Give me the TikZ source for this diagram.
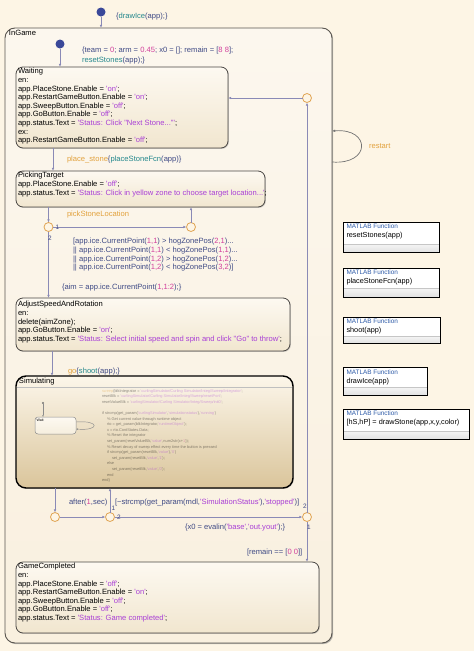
\documentclass[tikz,border=0pt]{standalone}
\usepackage{fontspec}
\setmainfont{Liberation Sans}[Ligatures=TeXOff]
\usetikzlibrary{arrows.meta,shadows}
\definecolor{bgc}{HTML}{FDF5E5}
\definecolor{igtop}{HTML}{FCF7EE}
\definecolor{igbot}{HTML}{F9F0DF}
\definecolor{igbd}{HTML}{5A5650}
\definecolor{sttop}{HTML}{FDF9F1}
\definecolor{stbot}{HTML}{F1E6CF}
\definecolor{stbd}{HTML}{4A4744}
\definecolor{simtop}{HTML}{FCF6EA}
\definecolor{simbot}{HTML}{DAC59B}
\definecolor{strc}{HTML}{A93FD6}
\definecolor{numc}{HTML}{D2409C}
\definecolor{fnc}{HTML}{23878C}
\definecolor{evc}{HTML}{E2A23E}
\definecolor{condc}{HTML}{3F4A85}
\definecolor{linec}{HTML}{8A8AB6}
\definecolor{juncc}{HTML}{E0A453}
\definecolor{dotc}{HTML}{3A4899}
\definecolor{mfc}{HTML}{2E5BA8}
\newcommand\Sq[1]{\textcolor{strc}{#1}}
\newcommand\Nm[1]{\textcolor{numc}{#1}}
\newcommand\Fn[1]{\textcolor{fnc}{#1}}
\newcommand\Ev[1]{\textcolor{evc}{#1}}
\newcommand\fsz{\fontsize{7.6}{8.6}\selectfont}
\begin{document}
\begin{tikzpicture}[x=1pt,y=-1pt,
  sbox/.style={draw=stbd, line width=0.8pt, rounded corners=7pt, inner sep=0pt, outer sep=0pt, anchor=north west,
    top color=sttop, bottom color=stbot,
    drop shadow={shadow xshift=0.9pt,shadow yshift=-0.9pt,opacity=0.35}},
  txt/.style={anchor=north west, inner sep=0pt, outer sep=0pt, align=left, font=\fsz},
  ctxt/.style={txt, text=condc},
  junc/.style={circle, draw=juncc, line width=0.8pt, fill=bgc, minimum size=9pt, inner sep=0pt, outer sep=0pt},
  ddot/.style={circle, fill=dotc, minimum size=9pt, inner sep=0pt, outer sep=0pt},
  tr/.style={draw=linec, line width=0.7pt, -{Latex[length=3.2pt,width=2.6pt]}},
  num/.style={font=\fontsize{6.4}{7}\selectfont, text=condc, inner sep=0pt},
  mfbox/.style={draw=black, line width=0.8pt, fill=white, inner sep=0pt, outer sep=0pt, anchor=north west,
    drop shadow={shadow xshift=1pt,shadow yshift=-1pt,opacity=0.55}},
  mft/.style={txt, font=\fontsize{6.4}{7}\selectfont, text=mfc},
  mfcont/.style={txt, font=\fontsize{7.3}{8}\selectfont},
  band/.style={top color=gray!8, bottom color=gray!22}
]
\fill[bgc] (0,0) rectangle (474,651);
\useasboundingbox (0,0) rectangle (474,651);

% helper coordinates
\coordinate (c53) at (53,0);
\coordinate (c52) at (52,0);
\coordinate (y162) at (0,162);
\coordinate (y131) at (0,131);
\coordinate (y422) at (0,422);
\coordinate (y429) at (0,429);
\coordinate (y387) at (0,387);

% InGame superstate
\node[sbox, rounded corners=10pt, draw=igbd, line width=0.9pt, top color=igtop, bottom color=igbot,
  minimum width=327pt, minimum height=615pt,
  drop shadow={shadow xshift=1.2pt,shadow yshift=-1.2pt,opacity=0.4}] (ingame) at (5,28) {};
\node[txt] (ingamet) at (9,30.4) {InGame};

% states
\node[sbox, minimum width=212pt, minimum height=81pt] (waiting) at (16,67) {};
\node[sbox, minimum width=249pt, minimum height=36pt] (picking) at (16,171) {};
\node[sbox, minimum width=274pt, minimum height=53pt] (adjust) at (16,298) {};
\node[sbox, rounded corners=10pt, draw=black, line width=1.4pt, top color=simtop, bottom color=simbot,
  minimum width=277pt, minimum height=112pt] (simulating) at (16,376) {};
\node[sbox, minimum width=303pt, minimum height=71pt] (gamecomp) at (16,562) {};

% state texts
\node[txt] (waitingt) at (18,68.4) {Waiting\\
en:\\
app.PlaceStone.Enable = \Sq{'on'};\\
app.RestartGameButton.Enable = \Sq{'on'};\\
app.SweepButton.Enable = \Sq{'off'};\\
app.GoButton.Enable = \Sq{'off'};\\
app.status.Text = \Sq{'Status: Click "Next Stone..."'};\\
ex:\\
app.RestartGameButton.Enable = \Sq{'off'};};

\node[txt] (pickingt) at (18,172.4) {PickingTarget\\
app.PlaceStone.Enable = \Sq{'off'};\\
app.status.Text = \Sq{'Status: Click in yellow zone to choose target location...'};};

\node[txt] (adjustt) at (18,301.4) {AdjustSpeedAndRotation\\
en:\\
delete(aimZone);\\
app.GoButton.Enable = \Sq{'on'};\\
app.status.Text = \Sq{'Status: Select initial speed and spin and click "Go" to throw'};};

\node[txt] (simt) at (19,378.4) {Simulating};
\draw[draw=black!25, line width=0.4pt] ([xshift=1pt]simulating.west |- y387) -- ([xshift=-1pt]simulating.east |- y387);

\node[txt] (gamecompt) at (18,563.4) {GameCompleted\\
en:\\
app.PlaceStone.Enable = \Sq{'off'};\\
app.RestartGameButton.Enable = \Sq{'on'};\\
app.SweepButton.Enable = \Sq{'off'};\\
app.GoButton.Enable = \Sq{'off'};\\
app.status.Text = \Sq{'Status: Game completed'};};

% inner Wait state of Simulating
\node[draw=black!45, line width=0.5pt, rounded corners=3pt, inner sep=0pt, outer sep=0pt, anchor=north west,
  top color=sttop, bottom color=stbot!70, minimum width=41pt, minimum height=17pt] (wait) at (35,417) {};
\node[txt, font=\fontsize{3.6}{4}\selectfont] (waitt) at (36.5,418.5) {Wait};
\node[circle, fill=black!55, minimum size=2.4pt, inner sep=0pt, outer sep=0pt] (d2) at (43,403) {};
\draw[draw=black!45, line width=0.45pt, -{Latex[length=1.8pt,width=1.6pt]}] (d2) -- (d2 |- wait.north);
\draw[draw=black!45, line width=0.45pt, -{Latex[length=1.8pt,width=1.6pt]}] (wait.east |- y422) .. controls (100,420) and (100,431) .. (wait.east |- y429);

\node[txt, font=\fontsize{3.9}{5.6}\selectfont, text=black, text opacity=0.42] (code) at (102,389.2) {\Ev{sweep}\{blkIntegrator = \Sq{'curlingSimulator/Curling Simulator/Integ/Sweep/Integrator'};\\
resetBlk = \Sq{'curlingSimulator/Curling Simulator/Integ/Sweep/resetPort'};\\
resetValueBlk = \Sq{'curlingSimulator/Curling Simulator/Integ/Sweep/init0'};\\[5.6pt]
if strcmp(get\_param(\Sq{'curlingSimulator'},\Sq{'simulationstatus'}),\Sq{'running'})\\
\hspace*{5pt}\% Get current value through runtime object\\
\hspace*{5pt}rto = get\_param(blkIntegrator,\Sq{'runtimeObject'});\\
\hspace*{5pt}x = rto.ContStates.Data;\\
\hspace*{5pt}\% Reset the integrator\\
\hspace*{5pt}set\_param(resetValueBlk,\Sq{'value'},num2str(x+\Nm{1}));\\
\hspace*{5pt}\% Reset decay of sweep effect every time the button is pressed\\
\hspace*{5pt}if strcmp(get\_param(resetBlk,\Sq{'value'}),\Sq{'0'})\\
\hspace*{10pt}set\_param(resetBlk,\Sq{'value'},\Sq{'1'});\\
\hspace*{5pt}else\\
\hspace*{10pt}set\_param(resetBlk,\Sq{'value'},\Sq{'0'});\\
\hspace*{5pt}end\\
end\}};

% default transitions
\node[ddot] (d0) at (101,12) {};
\node[ctxt] (d0l) at (116,13.4) {\{\Fn{drawIce}(app);\}};
\node[ddot] (d1) at (60,44) {};
\node[ctxt, font=\fontsize{7.6}{9.7}\selectfont] (d1l) at (82,47.4) {\{team = \Nm{0}; arm = \Nm{0.45}; x0 = []; remain = [\Nm{8 8}];\\
\Fn{resetStones}(app);\}};
\draw[tr] (d0.south) -- (d0 |- ingame.north);
\draw[tr] (d1.south) -- (d1 |- waiting.north);

% junctions
\node[junc] (r1) at (307,98) {};
\node[junc] (r2) at (307,517) {};
\node[junc] (j1) at (48.5,227) {};
\node[junc] (j2) at (191,227) {};
\node[junc] (j3) at (55,517) {};
\node[junc] (j4) at (110,517) {};

% transitions
\draw[tr] (r1.west) -- (r1 -| waiting.east);
\draw[tr] (r2.north) -- (r1.south);
\draw[tr] (waiting.south -| c53) -- (picking.north -| c53);
\draw[tr] (picking.south -| j1) -- (j1.north);
\draw[tr] (j1.east) -- (j2.west);
\draw[tr] (j2.north) -- (j2 |- picking.south);
\draw[tr] (j1.south) -- (j1 |- adjust.north);
\draw[tr] (adjust.south -| c52) -- (simulating.north -| c52);
\draw[tr] (simulating.south -| j3) -- (j3.north);
\draw[tr] (j3.east) -- (j4.west);
\draw[tr] (j4.north) -- (j4 |- simulating.south);
\draw[tr] (j4.east) -- (r2.west);
\draw[tr] (r2.south) -- (r2 |- gamecomp.north);
\draw[tr, draw=black!55] (ingame.east |- y162) .. controls (371,165) and (371,128) .. (ingame.east |- y131);

% transition labels
\node[ctxt] (l1) at (67,156.4) {\Ev{place\_stone}\{\Fn{placeStoneFcn}(app)\}};
\node[ctxt] (l2) at (67,211.4) {\Ev{pickStoneLocation}};
\node[ctxt] (l3) at (73,238.4) {[app.ice.CurrentPoint(\Nm{1,1}) > hogZonePos(\Nm{2,1})...\\
|| app.ice.CurrentPoint(\Nm{1,1}) < hogZonePos(\Nm{1,1})...\\
|| app.ice.CurrentPoint(\Nm{1,2}) > hogZonePos(\Nm{1,2})...\\
|| app.ice.CurrentPoint(\Nm{1,2}) < hogZonePos(\Nm{3,2})]};
\node[ctxt] (l4) at (62,284.4) {\{aim = app.ice.CurrentPoint(\Nm{1,1:2});\}};
\node[ctxt] (l5) at (68,368.4) {\Ev{go}\{\Fn{shoot}(app);\}};
\node[ctxt] (l6) at (69,499.4) {after(\Nm{1},sec)};
\node[ctxt] (l7) at (115,499.4) {[\textasciitilde strcmp(get\_param(mdl,\Sq{'SimulationStatus'}),\Sq{'stopped'})]};
\node[ctxt] (l8) at (185,524.4) {\{x0 = evalin(\Sq{'base'},\Sq{'out.yout'});\}};
\node[ctxt] (l9) at (247,549.4) {[remain == [\Nm{0 0}]]};
\node[txt, text=evc] (l10) at (369,143.4) {restart};

% transition order numbers
\node[num] (n1) at (57.5,227) {1};
\node[num] (n2) at (50,238.5) {2};
\node[num] (n3) at (113.5,508.5) {1};
\node[num] (n4) at (119,517) {2};
\node[num] (n5) at (305,506) {2};
\node[num] (n6) at (309,527.5) {1};

% MATLAB Function blocks
\node[mfbox, minimum width=96pt, minimum height=30pt] (f1) at (343,222) {};
\node[mfbox, minimum width=96pt, minimum height=29pt] (f2) at (343,268) {};
\node[mfbox, minimum width=97pt, minimum height=26pt] (f3) at (343,317) {};
\node[mfbox, minimum width=84pt, minimum height=28pt] (f4) at (343,367) {};
\node[mfbox, minimum width=126pt, minimum height=30pt] (f5) at (343,409) {};
\foreach \f/\h in {f1/8pt,f2/9pt,f3/7pt,f4/8pt,f5/8pt}{
  \shade[band] ([xshift=0.4pt,yshift=0.4pt]\f.south west) rectangle ([xshift=-0.4pt,yshift=\h]\f.south east);
  \draw[gray!45, line width=0.3pt] ([xshift=0.4pt,yshift=\h]\f.south west) -- ([xshift=-0.4pt,yshift=\h]\f.south east);
  \draw[black, line width=0.8pt] (\f.south west) rectangle (\f.north east);
}
\node[mft] (f1t) at (346.5,223.5) {MATLAB Function};
\node[mfcont] (f1c) at (346.5,232) {resetStones(app)};
\node[mft] (f2t) at (346.5,269.5) {MATLAB Function};
\node[mfcont] (f2c) at (346.5,278) {placeStoneFcn(app)};
\node[mft] (f3t) at (346.5,318.5) {MATLAB Function};
\node[mfcont] (f3c) at (346.5,327) {shoot(app)};
\node[mft] (f4t) at (346.5,369.5) {MATLAB Function};
\node[mfcont] (f4c) at (346.5,378) {drawIce(app)};
\node[mft] (f5t) at (346.5,410.5) {MATLAB Function};
\node[mfcont] (f5c) at (346.5,419.5) {[hS,hP] = drawStone(app,x,y,color)};
\end{tikzpicture}
\end{document}
